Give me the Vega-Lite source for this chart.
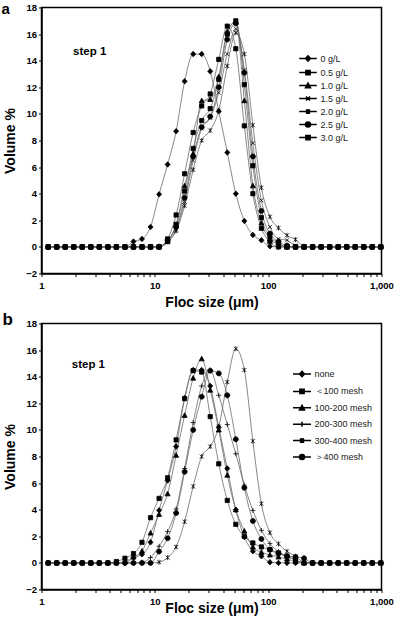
{
"$schema": "https://vega.github.io/schema/vega-lite/v6.json",
"padding": {"left": 0.5, "top": 0.5, "right": 0, "bottom": 0},
"background": "white",
"config": {
 "font": "Liberation Sans",
 "view": {"stroke": "black", "strokeWidth": 1.5},
 "axis": {"grid": false, "domainColor": "black", "domainWidth": 1.5, "tickColor": "black", "tickWidth": 1, "tickSize": 3, "labelColor": "black", "labelFontSize": 9.5, "labelFontWeight": "bold", "titleColor": "black", "titleFontSize": 14, "titleFontWeight": "bold", "labelFont": "Liberation Sans", "titleFont": "Liberation Sans", "labelOverlap": false},
 "axisY": {"labelPadding": 2, "titlePadding": 8, "labelOverlap": false},
 "axisX": {"labelPadding": 4, "labelFlush": false, "labelOverlap": false},
 "legend": {"labelFont": "Liberation Sans", "labelFontSize": 9, "labelColor": "#222", "symbolSize": 25, "labelOffset": 8}
},
"datasets": {
"a": [
{"s":"0 g/L","x":1.145,"y":0},{"s":"0 g/L","x":1.362,"y":0},{"s":"0 g/L","x":1.619,"y":0},{"s":"0 g/L","x":1.926,"y":0},{"s":"0 g/L","x":2.29,"y":0},{"s":"0 g/L","x":2.724,"y":0},{"s":"0 g/L","x":3.239,"y":0},{"s":"0 g/L","x":3.852,"y":0},{"s":"0 g/L","x":4.581,"y":0},{"s":"0 g/L","x":5.448,"y":0},{"s":"0 g/L","x":6.479,"y":0.4},{"s":"0 g/L","x":7.704,"y":0.6},{"s":"0 g/L","x":9.162,"y":1.5},{"s":"0 g/L","x":10.9,"y":3.95},{"s":"0 g/L","x":12.96,"y":6.2},{"s":"0 g/L","x":15.41,"y":8.7},{"s":"0 g/L","x":18.32,"y":12.45},{"s":"0 g/L","x":21.79,"y":14.5},{"s":"0 g/L","x":25.91,"y":14.5},{"s":"0 g/L","x":30.81,"y":13.2},{"s":"0 g/L","x":36.64,"y":10.2},{"s":"0 g/L","x":43.58,"y":7.1},{"s":"0 g/L","x":51.82,"y":4.0},{"s":"0 g/L","x":61.63,"y":1.95},{"s":"0 g/L","x":73.29,"y":0.9},{"s":"0 g/L","x":87.16,"y":0.5},{"s":"0 g/L","x":103.6,"y":0.05},{"s":"0 g/L","x":123.3,"y":0},{"s":"0 g/L","x":146.6,"y":0},{"s":"0 g/L","x":174.3,"y":0},{"s":"0 g/L","x":207.3,"y":0},{"s":"0 g/L","x":246.6,"y":0},{"s":"0 g/L","x":293.2,"y":0},{"s":"0 g/L","x":348.7,"y":0},{"s":"0 g/L","x":414.7,"y":0},{"s":"0 g/L","x":493.2,"y":0},{"s":"0 g/L","x":586.5,"y":0},{"s":"0 g/L","x":697.4,"y":0},{"s":"0 g/L","x":829.4,"y":0},{"s":"0 g/L","x":986.4,"y":0},
{"s":"0.5 g/L","x":1.145,"y":0},{"s":"0.5 g/L","x":1.362,"y":0},{"s":"0.5 g/L","x":1.619,"y":0},{"s":"0.5 g/L","x":1.926,"y":0},{"s":"0.5 g/L","x":2.29,"y":0},{"s":"0.5 g/L","x":2.724,"y":0},{"s":"0.5 g/L","x":3.239,"y":0},{"s":"0.5 g/L","x":3.852,"y":0},{"s":"0.5 g/L","x":4.581,"y":0},{"s":"0.5 g/L","x":5.448,"y":0},{"s":"0.5 g/L","x":6.479,"y":0},{"s":"0.5 g/L","x":7.704,"y":0},{"s":"0.5 g/L","x":9.162,"y":0},{"s":"0.5 g/L","x":10.9,"y":0},{"s":"0.5 g/L","x":12.96,"y":0.4},{"s":"0.5 g/L","x":15.41,"y":1.7},{"s":"0.5 g/L","x":18.32,"y":4.2},{"s":"0.5 g/L","x":21.79,"y":7.4},{"s":"0.5 g/L","x":25.91,"y":9.5},{"s":"0.5 g/L","x":30.81,"y":10.4},{"s":"0.5 g/L","x":36.64,"y":12.6},{"s":"0.5 g/L","x":43.58,"y":16.0},{"s":"0.5 g/L","x":51.82,"y":17.0},{"s":"0.5 g/L","x":61.63,"y":12.2},{"s":"0.5 g/L","x":73.29,"y":6.1},{"s":"0.5 g/L","x":87.16,"y":2.2},{"s":"0.5 g/L","x":103.6,"y":0.8},{"s":"0.5 g/L","x":123.3,"y":0.3},{"s":"0.5 g/L","x":146.6,"y":0},{"s":"0.5 g/L","x":174.3,"y":0},{"s":"0.5 g/L","x":207.3,"y":0},{"s":"0.5 g/L","x":246.6,"y":0},{"s":"0.5 g/L","x":293.2,"y":0},{"s":"0.5 g/L","x":348.7,"y":0},{"s":"0.5 g/L","x":414.7,"y":0},{"s":"0.5 g/L","x":493.2,"y":0},{"s":"0.5 g/L","x":586.5,"y":0},{"s":"0.5 g/L","x":697.4,"y":0},{"s":"0.5 g/L","x":829.4,"y":0},{"s":"0.5 g/L","x":986.4,"y":0},
{"s":"1.0 g/L","x":1.145,"y":0},{"s":"1.0 g/L","x":1.362,"y":0},{"s":"1.0 g/L","x":1.619,"y":0},{"s":"1.0 g/L","x":1.926,"y":0},{"s":"1.0 g/L","x":2.29,"y":0},{"s":"1.0 g/L","x":2.724,"y":0},{"s":"1.0 g/L","x":3.239,"y":0},{"s":"1.0 g/L","x":3.852,"y":0},{"s":"1.0 g/L","x":4.581,"y":0},{"s":"1.0 g/L","x":5.448,"y":0},{"s":"1.0 g/L","x":6.479,"y":0},{"s":"1.0 g/L","x":7.704,"y":0},{"s":"1.0 g/L","x":9.162,"y":0},{"s":"1.0 g/L","x":10.9,"y":0},{"s":"1.0 g/L","x":12.96,"y":0.5},{"s":"1.0 g/L","x":15.41,"y":1.6},{"s":"1.0 g/L","x":18.32,"y":4.6},{"s":"1.0 g/L","x":21.79,"y":7.0},{"s":"1.0 g/L","x":25.91,"y":11.0},{"s":"1.0 g/L","x":30.81,"y":11.1},{"s":"1.0 g/L","x":36.64,"y":12.8},{"s":"1.0 g/L","x":43.58,"y":16.2},{"s":"1.0 g/L","x":51.82,"y":16.9},{"s":"1.0 g/L","x":61.63,"y":11.0},{"s":"1.0 g/L","x":73.29,"y":4.6},{"s":"1.0 g/L","x":87.16,"y":1.8},{"s":"1.0 g/L","x":103.6,"y":0.6},{"s":"1.0 g/L","x":123.3,"y":0.2},{"s":"1.0 g/L","x":146.6,"y":0},{"s":"1.0 g/L","x":174.3,"y":0},{"s":"1.0 g/L","x":207.3,"y":0},{"s":"1.0 g/L","x":246.6,"y":0},{"s":"1.0 g/L","x":293.2,"y":0},{"s":"1.0 g/L","x":348.7,"y":0},{"s":"1.0 g/L","x":414.7,"y":0},{"s":"1.0 g/L","x":493.2,"y":0},{"s":"1.0 g/L","x":586.5,"y":0},{"s":"1.0 g/L","x":697.4,"y":0},{"s":"1.0 g/L","x":829.4,"y":0},{"s":"1.0 g/L","x":986.4,"y":0},
{"s":"1.5 g/L","x":1.145,"y":0},{"s":"1.5 g/L","x":1.362,"y":0},{"s":"1.5 g/L","x":1.619,"y":0},{"s":"1.5 g/L","x":1.926,"y":0},{"s":"1.5 g/L","x":2.29,"y":0},{"s":"1.5 g/L","x":2.724,"y":0},{"s":"1.5 g/L","x":3.239,"y":0},{"s":"1.5 g/L","x":3.852,"y":0},{"s":"1.5 g/L","x":4.581,"y":0},{"s":"1.5 g/L","x":5.448,"y":0},{"s":"1.5 g/L","x":6.479,"y":0},{"s":"1.5 g/L","x":7.704,"y":0},{"s":"1.5 g/L","x":9.162,"y":0},{"s":"1.5 g/L","x":10.9,"y":0},{"s":"1.5 g/L","x":12.96,"y":0.35},{"s":"1.5 g/L","x":15.41,"y":1.3},{"s":"1.5 g/L","x":18.32,"y":3.4},{"s":"1.5 g/L","x":21.79,"y":6.5},{"s":"1.5 g/L","x":25.91,"y":8.9},{"s":"1.5 g/L","x":30.81,"y":9.7},{"s":"1.5 g/L","x":36.64,"y":11.6},{"s":"1.5 g/L","x":43.58,"y":14.5},{"s":"1.5 g/L","x":51.82,"y":16.4},{"s":"1.5 g/L","x":61.63,"y":13.3},{"s":"1.5 g/L","x":73.29,"y":7.8},{"s":"1.5 g/L","x":87.16,"y":3.5},{"s":"1.5 g/L","x":103.6,"y":1.5},{"s":"1.5 g/L","x":123.3,"y":0.6},{"s":"1.5 g/L","x":146.6,"y":0.5},{"s":"1.5 g/L","x":174.3,"y":0.1},{"s":"1.5 g/L","x":207.3,"y":0},{"s":"1.5 g/L","x":246.6,"y":0},{"s":"1.5 g/L","x":293.2,"y":0},{"s":"1.5 g/L","x":348.7,"y":0},{"s":"1.5 g/L","x":414.7,"y":0},{"s":"1.5 g/L","x":493.2,"y":0},{"s":"1.5 g/L","x":586.5,"y":0},{"s":"1.5 g/L","x":697.4,"y":0},{"s":"1.5 g/L","x":829.4,"y":0},{"s":"1.5 g/L","x":986.4,"y":0},
{"s":"2.0 g/L","x":1.145,"y":0},{"s":"2.0 g/L","x":1.362,"y":0},{"s":"2.0 g/L","x":1.619,"y":0},{"s":"2.0 g/L","x":1.926,"y":0},{"s":"2.0 g/L","x":2.29,"y":0},{"s":"2.0 g/L","x":2.724,"y":0},{"s":"2.0 g/L","x":3.239,"y":0},{"s":"2.0 g/L","x":3.852,"y":0},{"s":"2.0 g/L","x":4.581,"y":0},{"s":"2.0 g/L","x":5.448,"y":0},{"s":"2.0 g/L","x":6.479,"y":0},{"s":"2.0 g/L","x":7.704,"y":0},{"s":"2.0 g/L","x":9.162,"y":0},{"s":"2.0 g/L","x":10.9,"y":0.05},{"s":"2.0 g/L","x":12.96,"y":0.4},{"s":"2.0 g/L","x":15.41,"y":1.2},{"s":"2.0 g/L","x":18.32,"y":3.1},{"s":"2.0 g/L","x":21.79,"y":5.8},{"s":"2.0 g/L","x":25.91,"y":8.0},{"s":"2.0 g/L","x":30.81,"y":8.75},{"s":"2.0 g/L","x":36.64,"y":10.25},{"s":"2.0 g/L","x":43.58,"y":13.6},{"s":"2.0 g/L","x":51.82,"y":16.1},{"s":"2.0 g/L","x":61.63,"y":14.5},{"s":"2.0 g/L","x":73.29,"y":9.15},{"s":"2.0 g/L","x":87.16,"y":4.45},{"s":"2.0 g/L","x":103.6,"y":2.27},{"s":"2.0 g/L","x":123.3,"y":1.43},{"s":"2.0 g/L","x":146.6,"y":0.87},{"s":"2.0 g/L","x":174.3,"y":0.55},{"s":"2.0 g/L","x":207.3,"y":0.05},{"s":"2.0 g/L","x":246.6,"y":0},{"s":"2.0 g/L","x":293.2,"y":0},{"s":"2.0 g/L","x":348.7,"y":0},{"s":"2.0 g/L","x":414.7,"y":0},{"s":"2.0 g/L","x":493.2,"y":0},{"s":"2.0 g/L","x":586.5,"y":0},{"s":"2.0 g/L","x":697.4,"y":0},{"s":"2.0 g/L","x":829.4,"y":0},{"s":"2.0 g/L","x":986.4,"y":0},
{"s":"2.5 g/L","x":1.145,"y":0},{"s":"2.5 g/L","x":1.362,"y":0},{"s":"2.5 g/L","x":1.619,"y":0},{"s":"2.5 g/L","x":1.926,"y":0},{"s":"2.5 g/L","x":2.29,"y":0},{"s":"2.5 g/L","x":2.724,"y":0},{"s":"2.5 g/L","x":3.239,"y":0},{"s":"2.5 g/L","x":3.852,"y":0},{"s":"2.5 g/L","x":4.581,"y":0},{"s":"2.5 g/L","x":5.448,"y":0},{"s":"2.5 g/L","x":6.479,"y":0},{"s":"2.5 g/L","x":7.704,"y":0},{"s":"2.5 g/L","x":9.162,"y":0},{"s":"2.5 g/L","x":10.9,"y":0},{"s":"2.5 g/L","x":12.96,"y":0.5},{"s":"2.5 g/L","x":15.41,"y":1.5},{"s":"2.5 g/L","x":18.32,"y":3.7},{"s":"2.5 g/L","x":21.79,"y":6.8},{"s":"2.5 g/L","x":25.91,"y":9.0},{"s":"2.5 g/L","x":30.81,"y":9.8},{"s":"2.5 g/L","x":36.64,"y":12.0},{"s":"2.5 g/L","x":43.58,"y":15.6},{"s":"2.5 g/L","x":51.82,"y":16.8},{"s":"2.5 g/L","x":61.63,"y":13.1},{"s":"2.5 g/L","x":73.29,"y":6.8},{"s":"2.5 g/L","x":87.16,"y":2.7},{"s":"2.5 g/L","x":103.6,"y":1.0},{"s":"2.5 g/L","x":123.3,"y":0.4},{"s":"2.5 g/L","x":146.6,"y":0.1},{"s":"2.5 g/L","x":174.3,"y":0},{"s":"2.5 g/L","x":207.3,"y":0},{"s":"2.5 g/L","x":246.6,"y":0},{"s":"2.5 g/L","x":293.2,"y":0},{"s":"2.5 g/L","x":348.7,"y":0},{"s":"2.5 g/L","x":414.7,"y":0},{"s":"2.5 g/L","x":493.2,"y":0},{"s":"2.5 g/L","x":586.5,"y":0},{"s":"2.5 g/L","x":697.4,"y":0},{"s":"2.5 g/L","x":829.4,"y":0},{"s":"2.5 g/L","x":986.4,"y":0},
{"s":"3.0 g/L","x":1.145,"y":0},{"s":"3.0 g/L","x":1.362,"y":0},{"s":"3.0 g/L","x":1.619,"y":0},{"s":"3.0 g/L","x":1.926,"y":0},{"s":"3.0 g/L","x":2.29,"y":0},{"s":"3.0 g/L","x":2.724,"y":0},{"s":"3.0 g/L","x":3.239,"y":0},{"s":"3.0 g/L","x":3.852,"y":0},{"s":"3.0 g/L","x":4.581,"y":0},{"s":"3.0 g/L","x":5.448,"y":0},{"s":"3.0 g/L","x":6.479,"y":0},{"s":"3.0 g/L","x":7.704,"y":0},{"s":"3.0 g/L","x":9.162,"y":0},{"s":"3.0 g/L","x":10.9,"y":0},{"s":"3.0 g/L","x":12.96,"y":0.6},{"s":"3.0 g/L","x":15.41,"y":2.4},{"s":"3.0 g/L","x":18.32,"y":5.5},{"s":"3.0 g/L","x":21.79,"y":8.6},{"s":"3.0 g/L","x":25.91,"y":10.6},{"s":"3.0 g/L","x":30.81,"y":11.5},{"s":"3.0 g/L","x":36.64,"y":14.1},{"s":"3.0 g/L","x":43.58,"y":16.6},{"s":"3.0 g/L","x":51.82,"y":14.9},{"s":"3.0 g/L","x":61.63,"y":9.1},{"s":"3.0 g/L","x":73.29,"y":4.0},{"s":"3.0 g/L","x":87.16,"y":1.4},{"s":"3.0 g/L","x":103.6,"y":0.4},{"s":"3.0 g/L","x":123.3,"y":0},{"s":"3.0 g/L","x":146.6,"y":0},{"s":"3.0 g/L","x":174.3,"y":0},{"s":"3.0 g/L","x":207.3,"y":0},{"s":"3.0 g/L","x":246.6,"y":0},{"s":"3.0 g/L","x":293.2,"y":0},{"s":"3.0 g/L","x":348.7,"y":0},{"s":"3.0 g/L","x":414.7,"y":0},{"s":"3.0 g/L","x":493.2,"y":0},{"s":"3.0 g/L","x":586.5,"y":0},{"s":"3.0 g/L","x":697.4,"y":0},{"s":"3.0 g/L","x":829.4,"y":0},{"s":"3.0 g/L","x":986.4,"y":0}
],
"b": [
{"s":"none","x":1.145,"y":0},{"s":"none","x":1.362,"y":0},{"s":"none","x":1.619,"y":0},{"s":"none","x":1.926,"y":0},{"s":"none","x":2.29,"y":0},{"s":"none","x":2.724,"y":0},{"s":"none","x":3.239,"y":0},{"s":"none","x":3.852,"y":0},{"s":"none","x":4.581,"y":0},{"s":"none","x":5.448,"y":0},{"s":"none","x":6.479,"y":0.4},{"s":"none","x":7.704,"y":0.65},{"s":"none","x":9.162,"y":1.55},{"s":"none","x":10.9,"y":3.95},{"s":"none","x":12.96,"y":6.2},{"s":"none","x":15.41,"y":8.75},{"s":"none","x":18.32,"y":12.4},{"s":"none","x":21.79,"y":14.5},{"s":"none","x":25.91,"y":14.5},{"s":"none","x":30.81,"y":13.3},{"s":"none","x":36.64,"y":10.2},{"s":"none","x":43.58,"y":7.1},{"s":"none","x":51.82,"y":4.0},{"s":"none","x":61.63,"y":1.95},{"s":"none","x":73.29,"y":0.88},{"s":"none","x":87.16,"y":0.5},{"s":"none","x":103.6,"y":0.05},{"s":"none","x":123.3,"y":0},{"s":"none","x":146.6,"y":0},{"s":"none","x":174.3,"y":0},{"s":"none","x":207.3,"y":0},{"s":"none","x":246.6,"y":0},{"s":"none","x":293.2,"y":0},{"s":"none","x":348.7,"y":0},{"s":"none","x":414.7,"y":0},{"s":"none","x":493.2,"y":0},{"s":"none","x":586.5,"y":0},{"s":"none","x":697.4,"y":0},{"s":"none","x":829.4,"y":0},{"s":"none","x":986.4,"y":0},
{"s":"＜100 mesh","x":1.145,"y":0},{"s":"＜100 mesh","x":1.362,"y":0},{"s":"＜100 mesh","x":1.619,"y":0},{"s":"＜100 mesh","x":1.926,"y":0},{"s":"＜100 mesh","x":2.29,"y":0},{"s":"＜100 mesh","x":2.724,"y":0},{"s":"＜100 mesh","x":3.239,"y":0},{"s":"＜100 mesh","x":3.852,"y":0},{"s":"＜100 mesh","x":4.581,"y":0.1},{"s":"＜100 mesh","x":5.448,"y":0.35},{"s":"＜100 mesh","x":6.479,"y":0.7},{"s":"＜100 mesh","x":7.704,"y":1.55},{"s":"＜100 mesh","x":9.162,"y":3.4},{"s":"＜100 mesh","x":10.9,"y":4.85},{"s":"＜100 mesh","x":12.96,"y":6.4},{"s":"＜100 mesh","x":15.41,"y":9.25},{"s":"＜100 mesh","x":18.32,"y":12.35},{"s":"＜100 mesh","x":21.79,"y":14.45},{"s":"＜100 mesh","x":25.91,"y":14.35},{"s":"＜100 mesh","x":30.81,"y":11.0},{"s":"＜100 mesh","x":36.64,"y":7.45},{"s":"＜100 mesh","x":43.58,"y":4.7},{"s":"＜100 mesh","x":51.82,"y":2.9},{"s":"＜100 mesh","x":61.63,"y":2.0},{"s":"＜100 mesh","x":73.29,"y":1.5},{"s":"＜100 mesh","x":87.16,"y":1.2},{"s":"＜100 mesh","x":103.6,"y":1.0},{"s":"＜100 mesh","x":123.3,"y":0.75},{"s":"＜100 mesh","x":146.6,"y":0.5},{"s":"＜100 mesh","x":174.3,"y":0.2},{"s":"＜100 mesh","x":207.3,"y":0},{"s":"＜100 mesh","x":246.6,"y":0},{"s":"＜100 mesh","x":293.2,"y":0},{"s":"＜100 mesh","x":348.7,"y":0},{"s":"＜100 mesh","x":414.7,"y":0},{"s":"＜100 mesh","x":493.2,"y":0},{"s":"＜100 mesh","x":586.5,"y":0},{"s":"＜100 mesh","x":697.4,"y":0},{"s":"＜100 mesh","x":829.4,"y":0},{"s":"＜100 mesh","x":986.4,"y":0},
{"s":"100-200 mesh","x":1.145,"y":0},{"s":"100-200 mesh","x":1.362,"y":0},{"s":"100-200 mesh","x":1.619,"y":0},{"s":"100-200 mesh","x":1.926,"y":0},{"s":"100-200 mesh","x":2.29,"y":0},{"s":"100-200 mesh","x":2.724,"y":0},{"s":"100-200 mesh","x":3.239,"y":0},{"s":"100-200 mesh","x":3.852,"y":0},{"s":"100-200 mesh","x":4.581,"y":0},{"s":"100-200 mesh","x":5.448,"y":0.1},{"s":"100-200 mesh","x":6.479,"y":0.45},{"s":"100-200 mesh","x":7.704,"y":0.9},{"s":"100-200 mesh","x":9.162,"y":2.25},{"s":"100-200 mesh","x":10.9,"y":3.65},{"s":"100-200 mesh","x":12.96,"y":5.2},{"s":"100-200 mesh","x":15.41,"y":8.1},{"s":"100-200 mesh","x":18.32,"y":11.1},{"s":"100-200 mesh","x":21.79,"y":13.9},{"s":"100-200 mesh","x":25.91,"y":15.35},{"s":"100-200 mesh","x":30.81,"y":13.0},{"s":"100-200 mesh","x":36.64,"y":10.0},{"s":"100-200 mesh","x":43.58,"y":6.6},{"s":"100-200 mesh","x":51.82,"y":4.0},{"s":"100-200 mesh","x":61.63,"y":2.4},{"s":"100-200 mesh","x":73.29,"y":1.2},{"s":"100-200 mesh","x":87.16,"y":0.8},{"s":"100-200 mesh","x":103.6,"y":0.6},{"s":"100-200 mesh","x":123.3,"y":0.45},{"s":"100-200 mesh","x":146.6,"y":0.3},{"s":"100-200 mesh","x":174.3,"y":0.1},{"s":"100-200 mesh","x":207.3,"y":0},{"s":"100-200 mesh","x":246.6,"y":0},{"s":"100-200 mesh","x":293.2,"y":0},{"s":"100-200 mesh","x":348.7,"y":0},{"s":"100-200 mesh","x":414.7,"y":0},{"s":"100-200 mesh","x":493.2,"y":0},{"s":"100-200 mesh","x":586.5,"y":0},{"s":"100-200 mesh","x":697.4,"y":0},{"s":"100-200 mesh","x":829.4,"y":0},{"s":"100-200 mesh","x":986.4,"y":0},
{"s":"200-300 mesh","x":1.145,"y":0},{"s":"200-300 mesh","x":1.362,"y":0},{"s":"200-300 mesh","x":1.619,"y":0},{"s":"200-300 mesh","x":1.926,"y":0},{"s":"200-300 mesh","x":2.29,"y":0},{"s":"200-300 mesh","x":2.724,"y":0},{"s":"200-300 mesh","x":3.239,"y":0},{"s":"200-300 mesh","x":3.852,"y":0},{"s":"200-300 mesh","x":4.581,"y":0},{"s":"200-300 mesh","x":5.448,"y":0},{"s":"200-300 mesh","x":6.479,"y":0},{"s":"200-300 mesh","x":7.704,"y":0.05},{"s":"200-300 mesh","x":9.162,"y":0.4},{"s":"200-300 mesh","x":10.9,"y":1.25},{"s":"200-300 mesh","x":12.96,"y":2.35},{"s":"200-300 mesh","x":15.41,"y":4.05},{"s":"200-300 mesh","x":18.32,"y":7.1},{"s":"200-300 mesh","x":21.79,"y":10.55},{"s":"200-300 mesh","x":25.91,"y":13.3},{"s":"200-300 mesh","x":30.81,"y":14.5},{"s":"200-300 mesh","x":36.64,"y":12.6},{"s":"200-300 mesh","x":43.58,"y":10.4},{"s":"200-300 mesh","x":51.82,"y":8.2},{"s":"200-300 mesh","x":61.63,"y":5.85},{"s":"200-300 mesh","x":73.29,"y":3.95},{"s":"200-300 mesh","x":87.16,"y":2.45},{"s":"200-300 mesh","x":103.6,"y":1.45},{"s":"200-300 mesh","x":123.3,"y":0.85},{"s":"200-300 mesh","x":146.6,"y":0.5},{"s":"200-300 mesh","x":174.3,"y":0.25},{"s":"200-300 mesh","x":207.3,"y":0},{"s":"200-300 mesh","x":246.6,"y":0},{"s":"200-300 mesh","x":293.2,"y":0},{"s":"200-300 mesh","x":348.7,"y":0},{"s":"200-300 mesh","x":414.7,"y":0},{"s":"200-300 mesh","x":493.2,"y":0},{"s":"200-300 mesh","x":586.5,"y":0},{"s":"200-300 mesh","x":697.4,"y":0},{"s":"200-300 mesh","x":829.4,"y":0},{"s":"200-300 mesh","x":986.4,"y":0},
{"s":"300-400 mesh","x":1.145,"y":0},{"s":"300-400 mesh","x":1.362,"y":0},{"s":"300-400 mesh","x":1.619,"y":0},{"s":"300-400 mesh","x":1.926,"y":0},{"s":"300-400 mesh","x":2.29,"y":0},{"s":"300-400 mesh","x":2.724,"y":0},{"s":"300-400 mesh","x":3.239,"y":0},{"s":"300-400 mesh","x":3.852,"y":0},{"s":"300-400 mesh","x":4.581,"y":0},{"s":"300-400 mesh","x":5.448,"y":0},{"s":"300-400 mesh","x":6.479,"y":0},{"s":"300-400 mesh","x":7.704,"y":0},{"s":"300-400 mesh","x":9.162,"y":0},{"s":"300-400 mesh","x":10.9,"y":0.05},{"s":"300-400 mesh","x":12.96,"y":0.4},{"s":"300-400 mesh","x":15.41,"y":1.2},{"s":"300-400 mesh","x":18.32,"y":3.1},{"s":"300-400 mesh","x":21.79,"y":5.75},{"s":"300-400 mesh","x":25.91,"y":8.0},{"s":"300-400 mesh","x":30.81,"y":8.75},{"s":"300-400 mesh","x":36.64,"y":10.25},{"s":"300-400 mesh","x":43.58,"y":13.6},{"s":"300-400 mesh","x":51.82,"y":16.1},{"s":"300-400 mesh","x":61.63,"y":14.5},{"s":"300-400 mesh","x":73.29,"y":9.15},{"s":"300-400 mesh","x":87.16,"y":4.45},{"s":"300-400 mesh","x":103.6,"y":2.27},{"s":"300-400 mesh","x":123.3,"y":1.43},{"s":"300-400 mesh","x":146.6,"y":0.87},{"s":"300-400 mesh","x":174.3,"y":0.5},{"s":"300-400 mesh","x":207.3,"y":0.05},{"s":"300-400 mesh","x":246.6,"y":0},{"s":"300-400 mesh","x":293.2,"y":0},{"s":"300-400 mesh","x":348.7,"y":0},{"s":"300-400 mesh","x":414.7,"y":0},{"s":"300-400 mesh","x":493.2,"y":0},{"s":"300-400 mesh","x":586.5,"y":0},{"s":"300-400 mesh","x":697.4,"y":0},{"s":"300-400 mesh","x":829.4,"y":0},{"s":"300-400 mesh","x":986.4,"y":0},
{"s":"＞400 mesh","x":1.145,"y":0},{"s":"＞400 mesh","x":1.362,"y":0},{"s":"＞400 mesh","x":1.619,"y":0},{"s":"＞400 mesh","x":1.926,"y":0},{"s":"＞400 mesh","x":2.29,"y":0},{"s":"＞400 mesh","x":2.724,"y":0},{"s":"＞400 mesh","x":3.239,"y":0},{"s":"＞400 mesh","x":3.852,"y":0},{"s":"＞400 mesh","x":4.581,"y":0},{"s":"＞400 mesh","x":5.448,"y":0},{"s":"＞400 mesh","x":6.479,"y":0},{"s":"＞400 mesh","x":7.704,"y":0},{"s":"＞400 mesh","x":9.162,"y":0},{"s":"＞400 mesh","x":10.9,"y":0.85},{"s":"＞400 mesh","x":12.96,"y":1.85},{"s":"＞400 mesh","x":15.41,"y":3.75},{"s":"＞400 mesh","x":18.32,"y":6.85},{"s":"＞400 mesh","x":21.79,"y":10.0},{"s":"＞400 mesh","x":25.91,"y":12.5},{"s":"＞400 mesh","x":30.81,"y":14.45},{"s":"＞400 mesh","x":36.64,"y":14.25},{"s":"＞400 mesh","x":43.58,"y":12.6},{"s":"＞400 mesh","x":51.82,"y":9.3},{"s":"＞400 mesh","x":61.63,"y":5.65},{"s":"＞400 mesh","x":73.29,"y":3.15},{"s":"＞400 mesh","x":87.16,"y":1.8},{"s":"＞400 mesh","x":103.6,"y":1.0},{"s":"＞400 mesh","x":123.3,"y":0.7},{"s":"＞400 mesh","x":146.6,"y":0.5},{"s":"＞400 mesh","x":174.3,"y":0.45},{"s":"＞400 mesh","x":207.3,"y":0.35},{"s":"＞400 mesh","x":246.6,"y":0},{"s":"＞400 mesh","x":293.2,"y":0},{"s":"＞400 mesh","x":348.7,"y":0},{"s":"＞400 mesh","x":414.7,"y":0},{"s":"＞400 mesh","x":493.2,"y":0},{"s":"＞400 mesh","x":586.5,"y":0},{"s":"＞400 mesh","x":697.4,"y":0},{"s":"＞400 mesh","x":829.4,"y":0},{"s":"＞400 mesh","x":986.4,"y":0}
]
},
"vconcat": [
{
 "width": 340, "height": 266,
 "data": {"name": "a"},
 "layer": [
  {"mark": {"type": "line", "interpolate": "monotone", "stroke": "#6a6a6a", "strokeWidth": 0.8},
   "encoding": {
    "x": {"field": "x", "type": "quantitative", "scale": {"type": "log", "domain": [1, 1000]}, "axis": {"values": [1,2,3,4,5,6,7,8,9,10,20,30,40,50,60,70,80,90,100,200,300,400,500,600,700,800,900,1000], "labelExpr": "indexof([1,10,100,1000], datum.value) >= 0 ? format(datum.value, ',') : ''", "title": "Floc size (μm)", "titlePadding": 5, "labelOverlap": false}},
    "y": {"field": "y", "type": "quantitative", "scale": {"domain": [-2, 18], "nice": false, "zero": false}, "axis": {"values": [-2,0,2,4,6,8,10,12,14,16,18], "title": "Volume %", "labelOverlap": false}},
    "detail": {"field": "s", "type": "nominal"}}},
  {"mark": {"type": "point", "fill": "black", "stroke": "black", "strokeWidth": 0.8, "opacity": 1, "size": 25},
   "encoding": {
    "x": {"field": "x", "type": "quantitative", "axis": {"values": [1,2,3,4,5,6,7,8,9,10,20,30,40,50,60,70,80,90,100,200,300,400,500,600,700,800,900,1000], "labelExpr": "indexof([1,10,100,1000], datum.value) >= 0 ? format(datum.value, ',') : ''", "title": "Floc size (μm)", "titlePadding": 5, "labelOverlap": false}},
    "y": {"field": "y", "type": "quantitative", "axis": {"values": [-2,0,2,4,6,8,10,12,14,16,18], "title": "Volume %", "labelOverlap": false}},
    "shape": {"field": "s", "type": "nominal", "scale": {"domain": ["0 g/L", "0.5 g/L", "1.0 g/L", "1.5 g/L", "2.0 g/L", "2.5 g/L", "3.0 g/L"], "range": ["M0,-1.1L1,0L0,1.1L-1,0Z", "M-0.85,-0.85L0.85,-0.85L0.85,0.85L-0.85,0.85Z", "M0,-1L1,0.85L-1,0.85Z", "M-0.8,-0.8L0.8,0.8M-0.8,0.8L0.8,-0.8", "M-0.8,-0.8L0.8,0.8M-0.8,0.8L0.8,-0.8M0,-1L0,1", "M1,0A1,1,0,1,1,-1,0A1,1,0,1,1,1,0Z", "M-0.85,-0.85L0.85,-0.85L0.85,0.85L-0.85,0.85Z"]}, "legend": null}}},
  {"transform": [{"filter": "false"}],
   "mark": {"type": "point", "fill": "black", "stroke": "black", "strokeWidth": 0.8, "opacity": 1, "size": 25},
   "encoding": {
    "x": {"field": "x", "type": "quantitative", "axis": {"values": [1,2,3,4,5,6,7,8,9,10,20,30,40,50,60,70,80,90,100,200,300,400,500,600,700,800,900,1000], "labelExpr": "indexof([1,10,100,1000], datum.value) >= 0 ? format(datum.value, ',') : ''", "title": "Floc size (μm)", "titlePadding": 5, "labelOverlap": false}},
    "y": {"field": "y", "type": "quantitative", "axis": {"values": [-2,0,2,4,6,8,10,12,14,16,18], "title": "Volume %", "labelOverlap": false}},
    "shape": {"field": "s", "type": "nominal", "scale": {"domain": ["0 g/L", "0.5 g/L", "1.0 g/L", "1.5 g/L", "2.0 g/L", "2.5 g/L", "3.0 g/L"], "range": ["M-3.5,0L3.5,0M0,-1.1L1,0L0,1.1L-1,0Z", "M-3.5,0L3.5,0M-0.85,-0.85L0.85,-0.85L0.85,0.85L-0.85,0.85Z", "M-3.5,0L3.5,0M0,-1L1,0.85L-1,0.85Z", "M-3.5,0L3.5,0M-0.8,-0.8L0.8,0.8M-0.8,0.8L0.8,-0.8", "M-3.5,0L3.5,0M-0.8,-0.8L0.8,0.8M-0.8,0.8L0.8,-0.8M0,-1L0,1", "M-3.5,0L3.5,0M1,0A1,1,0,1,1,-1,0A1,1,0,1,1,1,0Z", "M-3.5,0L3.5,0M-0.85,-0.85L0.85,-0.85L0.85,0.85L-0.85,0.85Z"]},
     "legend": {"title": null, "orient": "none", "legendX": 262, "legendY": 46.5, "rowPadding": 2, "symbolSize": 25,
      "encode": {"symbols": {"update": {"stroke": {"value": "black"}, "strokeWidth": {"value": 0.8}, "fill": {"value": "black"}, "opacity": {"value": 1}, "size": {"value": 25}}}}}}}},
  {"data": {"values": [{}]},
   "mark": {"type": "text", "text": "step 1", "align": "left", "baseline": "middle", "fontSize": 11.5, "fontWeight": "bold", "color": "black"},
   "encoding": {
    "x": {"datum": 1.9, "type": "quantitative", "axis": {"values": [1,2,3,4,5,6,7,8,9,10,20,30,40,50,60,70,80,90,100,200,300,400,500,600,700,800,900,1000], "labelExpr": "indexof([1,10,100,1000], datum.value) >= 0 ? format(datum.value, ',') : ''", "title": "Floc size (μm)", "titlePadding": 5, "labelOverlap": false}},
    "y": {"datum": 14.65, "type": "quantitative", "axis": {"values": [-2,0,2,4,6,8,10,12,14,16,18], "title": "Volume %", "labelOverlap": false}}}},
  {"data": {"values": [{}]},
   "mark": {"type": "text", "text": "a", "align": "left", "baseline": "alphabetic", "fontSize": 15, "fontWeight": "bold", "color": "black", "clip": false},
   "encoding": {
    "x": {"datum": 0.443, "type": "quantitative", "axis": {"values": [1,2,3,4,5,6,7,8,9,10,20,30,40,50,60,70,80,90,100,200,300,400,500,600,700,800,900,1000], "labelExpr": "indexof([1,10,100,1000], datum.value) >= 0 ? format(datum.value, ',') : ''", "title": "Floc size (μm)", "titlePadding": 5, "labelOverlap": false}},
    "y": {"datum": 17.51, "type": "quantitative", "axis": {"values": [-2,0,2,4,6,8,10,12,14,16,18], "title": "Volume %", "labelOverlap": false}}}}
 ],
 "resolve": {"scale": {"shape": "independent"}}
},
{
 "width": 340, "height": 266,
 "data": {"name": "b"},
 "layer": [
  {"mark": {"type": "line", "interpolate": "monotone", "stroke": "#6a6a6a", "strokeWidth": 0.8},
   "encoding": {
    "x": {"field": "x", "type": "quantitative", "scale": {"type": "log", "domain": [1, 1000]}, "axis": {"values": [1,2,3,4,5,6,7,8,9,10,20,30,40,50,60,70,80,90,100,200,300,400,500,600,700,800,900,1000], "labelExpr": "indexof([1,10,100,1000], datum.value) >= 0 ? format(datum.value, ',') : ''", "title": "Floc size (μm)", "titlePadding": -5, "labelOverlap": false}},
    "y": {"field": "y", "type": "quantitative", "scale": {"domain": [-2, 18], "nice": false, "zero": false}, "axis": {"values": [-2,0,2,4,6,8,10,12,14,16,18], "title": "Volume %", "labelOverlap": false}},
    "detail": {"field": "s", "type": "nominal"}}},
  {"mark": {"type": "point", "fill": "black", "stroke": "black", "strokeWidth": 0.8, "opacity": 1, "size": 25},
   "encoding": {
    "x": {"field": "x", "type": "quantitative", "axis": {"values": [1,2,3,4,5,6,7,8,9,10,20,30,40,50,60,70,80,90,100,200,300,400,500,600,700,800,900,1000], "labelExpr": "indexof([1,10,100,1000], datum.value) >= 0 ? format(datum.value, ',') : ''", "title": "Floc size (μm)", "titlePadding": -5, "labelOverlap": false}},
    "y": {"field": "y", "type": "quantitative", "axis": {"values": [-2,0,2,4,6,8,10,12,14,16,18], "title": "Volume %", "labelOverlap": false}},
    "shape": {"field": "s", "type": "nominal", "scale": {"domain": ["none", "＜100 mesh", "100-200 mesh", "200-300 mesh", "300-400 mesh", "＞400 mesh"], "range": ["M0,-1.1L1,0L0,1.1L-1,0Z", "M-0.85,-0.85L0.85,-0.85L0.85,0.85L-0.85,0.85Z", "M0,-1L1,0.85L-1,0.85Z", "M-1,0L1,0M0,-1L0,1", "M-0.8,-0.8L0.8,0.8M-0.8,0.8L0.8,-0.8M0,-1L0,1", "M1,0A1,1,0,1,1,-1,0A1,1,0,1,1,1,0Z"]}, "legend": null}}},
  {"transform": [{"filter": "false"}],
   "mark": {"type": "point", "fill": "black", "stroke": "black", "strokeWidth": 0.8, "opacity": 1, "size": 25},
   "encoding": {
    "x": {"field": "x", "type": "quantitative", "axis": {"values": [1,2,3,4,5,6,7,8,9,10,20,30,40,50,60,70,80,90,100,200,300,400,500,600,700,800,900,1000], "labelExpr": "indexof([1,10,100,1000], datum.value) >= 0 ? format(datum.value, ',') : ''", "title": "Floc size (μm)", "titlePadding": -5, "labelOverlap": false}},
    "y": {"field": "y", "type": "quantitative", "axis": {"values": [-2,0,2,4,6,8,10,12,14,16,18], "title": "Volume %", "labelOverlap": false}},
    "shape": {"field": "s", "type": "nominal", "scale": {"domain": ["none", "＜100 mesh", "100-200 mesh", "200-300 mesh", "300-400 mesh", "＞400 mesh"], "range": ["M-3.6,0L3.6,0M0,-1.1L1,0L0,1.1L-1,0Z", "M-3.6,0L3.6,0M-0.85,-0.85L0.85,-0.85L0.85,0.85L-0.85,0.85Z", "M-3.6,0L3.6,0M0,-1L1,0.85L-1,0.85Z", "M-3.6,0L3.6,0M0,-1L0,1", "M-3.6,0L3.6,0M-0.8,-0.8L0.8,0.8M-0.8,0.8L0.8,-0.8M0,-1L0,1", "M-3.6,0L3.6,0M1,0A1,1,0,1,1,-1,0A1,1,0,1,1,1,0Z"]},
     "legend": {"title": null, "orient": "none", "legendX": 256, "legendY": 46, "rowPadding": 5.4, "symbolSize": 25,
      "encode": {"symbols": {"update": {"stroke": {"value": "black"}, "strokeWidth": {"value": 0.8}, "fill": {"value": "black"}, "opacity": {"value": 1}, "size": {"value": 25}}}}}}}},
  {"data": {"values": [{}]},
   "mark": {"type": "text", "text": "step 1", "align": "left", "baseline": "middle", "fontSize": 11.5, "fontWeight": "bold", "color": "black"},
   "encoding": {
    "x": {"datum": 1.85, "type": "quantitative", "axis": {"values": [1,2,3,4,5,6,7,8,9,10,20,30,40,50,60,70,80,90,100,200,300,400,500,600,700,800,900,1000], "labelExpr": "indexof([1,10,100,1000], datum.value) >= 0 ? format(datum.value, ',') : ''", "title": "Floc size (μm)", "titlePadding": -5, "labelOverlap": false}},
    "y": {"datum": 14.85, "type": "quantitative", "axis": {"values": [-2,0,2,4,6,8,10,12,14,16,18], "title": "Volume %", "labelOverlap": false}}}},
  {"data": {"values": [{}]},
   "mark": {"type": "text", "text": "b", "align": "left", "baseline": "alphabetic", "fontSize": 17, "fontWeight": "bold", "color": "black", "clip": false},
   "encoding": {
    "x": {"datum": 0.452, "type": "quantitative", "axis": {"values": [1,2,3,4,5,6,7,8,9,10,20,30,40,50,60,70,80,90,100,200,300,400,500,600,700,800,900,1000], "labelExpr": "indexof([1,10,100,1000], datum.value) >= 0 ? format(datum.value, ',') : ''", "title": "Floc size (μm)", "titlePadding": -5, "labelOverlap": false}},
    "y": {"datum": 17.87, "type": "quantitative", "axis": {"values": [-2,0,2,4,6,8,10,12,14,16,18], "title": "Volume %", "labelOverlap": false}}}}
 ],
 "resolve": {"scale": {"shape": "independent"}}
}
],
"spacing": 50,
"bounds": "flush"
}
